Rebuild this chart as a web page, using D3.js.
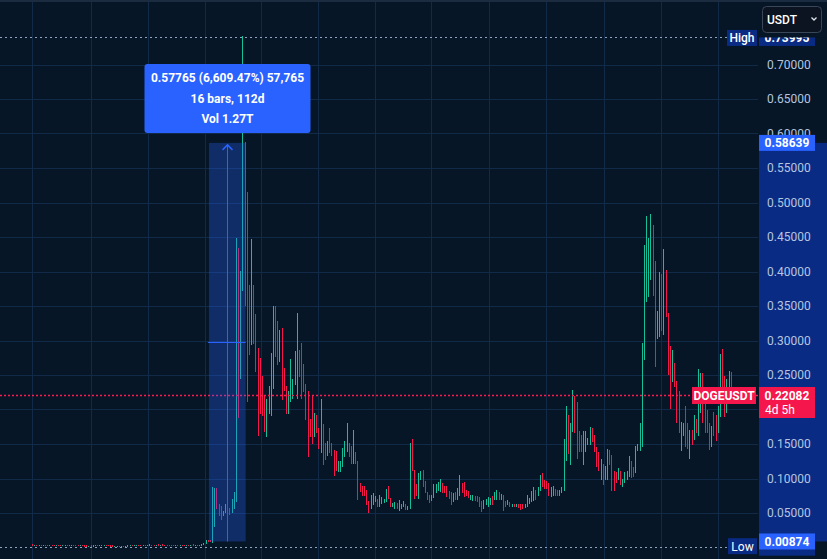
<!DOCTYPE html>
<html><head><meta charset="utf-8">
<script src="https://cdn.jsdelivr.net/npm/d3@7/dist/d3.min.js"></script>
<style>html,body{margin:0;padding:0;background:#061626;overflow:hidden}svg{display:block}</style>
</head><body><svg id="c" width="827" height="559"></svg>
<script>
// ---- data (weekly DOGEUSDT) ----
const firstOpen = 0.0036;
const highs = [
.0040,.0035,.0036,.0033,.0032,.0033,.0034,.0032,.0029,.0029,
.0026,.0026,.0026,.0025,.0026,.0027,.0027,.0030,.0030,.0029,
.0028,.0026,.0024,.0024,.0023,.0023,.0021,.0022,.0024,.0025,
.0025,.0025,.0028,.0032,.0031,.0028,.0024,.0023,.0019,.0020,
.0020,.0021,.0020,.0021,.0024,.0026,.0026,.0026,.0027,.0027,
.0026,.0026,.0025,.0026,.0047,.0036,.0034,.0035,.0037,.0036,
.0037,.0035,.0033,.0030,.0029,.0028,.0028,.0028,.0028,.0027,
.0027,.0029,.0029,.0036,.0038,.0036,.0034,.0035,.0048,.0060,
.0108,.0100,.0100,.087,.086,.085,.063,.060,.052,.063,
.062,.057,.070,.079,.448,.434,.40,.740,.587,.515,
.38,.447,.379,.337,.289,.274,.248,.219,.214,.233,
.281,.349,.350,.327,.315,.318,.260,.233,.226,.272,
.243,.284,.339,.286,.296,.265,.236,.226,.185,.219,
.194,.192,.173,.214,.178,.151,.153,.173,.151,.141,
.139,.124,.124,.144,.153,.179,.151,.146,.170,.137,
.124,.093,.089,.089,.083,.066,.076,.078,.074,.070,
.076,.073,.070,.084,.089,.071,.064,.065,.064,.068,
.062,.066,.062,.060,.151,.157,.112,.091,.107,.110,
.111,.095,.080,.076,.075,.092,.092,.094,.099,.093,
.089,.088,.081,.079,.078,.080,.086,.104,.093,.094,
.083,.081,.076,.076,.074,.074,.073,.066,.068,.069,
.073,.071,.074,.079,.083,.080,.077,.076,.067,.068,
.065,.063,.063,.063,.063,.062,.063,.062,.075,.071,
.081,.087,.082,.087,.105,.107,.097,.095,.093,.087,
.089,.084,.082,.083,.087,.156,.205,.192,.179,.228,
.219,.210,.168,.163,.168,.168,.158,.174,.173,.163,
.145,.137,.128,.120,.117,.142,.141,.134,.110,.108,
.115,.110,.099,.108,.110,.132,.124,.116,.146,.149,
.179,.296,.437,.479,.448,.483,.466,.414,.342,.398,
.396,.432,.402,.339,.292,.286,.267,.240,.226,.181,
.179,.205,.179,.170,.170,.192,.185,.258,.252,.252,
.211,.199,.180,.175,.195,.192,.204,.280,.287,.248,
.243,.255,.253];
const lows = [
.0030,.0030,.0028,.0027,.0029,.0029,.0030,.0025,.0026,.0025,
.0024,.0024,.0023,.0022,.0023,.0025,.0025,.0024,.0026,.0026,
.0026,.0022,.0022,.0022,.0021,.0019,.0020,.0020,.0020,.0022,
.0023,.0023,.0024,.0026,.0026,.0022,.0021,.0012,.0015,.0017,
.0018,.0018,.0018,.0019,.0020,.0022,.0022,.0023,.0024,.0025,
.0024,.0023,.0023,.0023,.0024,.0031,.0030,.0030,.0032,.0032,
.0033,.0031,.0027,.0026,.0026,.0025,.0025,.0025,.0025,.0025,
.0024,.0025,.0026,.0027,.0030,.0030,.0030,.0031,.0032,.0044,
.0054,.0080,.0083,.0075,.030,.056,.047,.040,.046,.050,
.052,.048,.050,.056,.067,.188,.245,.373,.351,.211,
.279,.294,.296,.255,.162,.194,.192,.168,.161,.194,
.192,.231,.277,.265,.269,.214,.228,.194,.194,.211,
.216,.236,.216,.248,.216,.226,.186,.132,.161,.151,
.161,.166,.144,.137,.120,.127,.134,.137,.134,.105,
.112,.110,.110,.117,.132,.139,.132,.122,.122,.122,
.069,.081,.076,.076,.063,.050,.057,.063,.066,.059,
.059,.064,.065,.066,.071,.060,.059,.057,.057,.054,
.057,.059,.055,.055,.057,.111,.071,.075,.071,.098,
.088,.079,.069,.065,.068,.073,.079,.083,.081,.079,
.079,.074,.071,.062,.067,.070,.070,.076,.080,.074,
.075,.072,.070,.068,.068,.067,.060,.052,.057,.062,
.060,.063,.063,.069,.069,.070,.070,.054,.059,.062,
.059,.059,.059,.059,.058,.055,.057,.058,.059,.064,
.066,.068,.070,.076,.083,.089,.086,.085,.075,.074,
.075,.076,.076,.076,.079,.083,.126,.136,.121,.168,
.166,.129,.139,.139,.120,.139,.149,.149,.153,.139,
.118,.112,.099,.091,.098,.098,.120,.083,.083,.094,
.098,.092,.088,.094,.099,.103,.102,.103,.109,.140,
.141,.147,.272,.356,.364,.388,.365,.262,.303,.306,
.315,.308,.335,.250,.202,.240,.233,.181,.166,.141,
.163,.146,.144,.129,.149,.156,.166,.163,.195,.181,
.166,.166,.142,.147,.163,.155,.166,.190,.220,.190,
.195,.214,.214];
const closes = [
.0032,.0033,.0030,.0031,.0030,.0032,.0031,.0027,.0028,.0026,
.0025,.0026,.0024,.0023,.0025,.0026,.0025,.0027,.0028,.0027,
.0026,.0023,.0024,.0023,.0022,.0020,.0021,.0020,.0023,.0024,
.0023,.0025,.0027,.0030,.0027,.0023,.0022,.0017,.0018,.0019,
.0018,.0020,.0019,.0020,.0023,.0025,.0024,.0025,.0026,.0025,
.0024,.0025,.0024,.0025,.0034,.0033,.0032,.0034,.0033,.0035,
.0034,.0032,.0029,.0028,.0027,.0026,.0027,.0026,.0027,.0026,
.0025,.0028,.0027,.0034,.0031,.0033,.0032,.0034,.0045,.0057,
.0098,.0092,.00874,.034,.058,.057,.050,.048,.050,.060,
.056,.052,.065,.072,.32,.27,.39,.49,.42,.32,
.30,.375,.32,.28,.245,.23,.20,.185,.20,.215,
.27,.31,.29,.275,.30,.245,.232,.20,.215,.225,
.24,.27,.28,.26,.24,.23,.21,.17,.165,.162,
.172,.168,.148,.17,.135,.130,.145,.14,.137,.125,
.115,.119,.123,.14,.146,.16,.138,.128,.134,.127,
.088,.085,.08,.077,.064,.058,.066,.068,.070,.062,
.066,.068,.069,.08,.072,.061,.063,.064,.059,.061,
.062,.064,.058,.059,.14,.112,.08,.078,.10,.105,
.09,.082,.071,.069,.072,.085,.088,.09,.092,.084,
.082,.077,.074,.068,.075,.073,.08,.088,.085,.08,
.078,.073,.074,.075,.071,.069,.063,.062,.066,.067,
.068,.070,.069,.078,.08,.075,.076,.063,.062,.064,
.061,.063,.061,.062,.060,.059,.058,.061,.069,.070,
.076,.080,.077,.085,.10,.095,.092,.09,.082,.085,
.086,.08,.078,.08,.085,.15,.17,.16,.17,.20,
.19,.155,.15,.145,.15,.153,.156,.165,.16,.143,
.125,.118,.124,.103,.11,.136,.125,.10,.098,.096,
.104,.095,.098,.104,.108,.118,.11,.107,.138,.148,
.165,.27,.38,.40,.42,.44,.40,.31,.33,.38,
.34,.38,.34,.27,.25,.265,.24,.19,.17,.172,
.176,.168,.155,.165,.155,.18,.175,.225,.232,.205,
.19,.17,.158,.168,.164,.16,.20,.265,.225,.20,
.235,.24,.22082];

const yTicks = [0.05,0.10,0.15,0.20,0.25,0.30,0.35,0.40,0.45,0.50,0.55,0.60,0.65,0.70];
const hiddenTickLabels = [0.20];   // covered by the last-price label in the reference
const timeGridBars = [0, 27, 53.5, 79.5, 105.5, 132, 158, 184, 210.5, 237, 263.5, 290, 316];
const symbol = "DOGEUSDT";
const lastPrice = 0.22082;
const countdown = "4d 5h";
const highValue = 0.73995;
const measureStart = {bar: 82, price: 0.00874};
const measureEnd = {bar: 98, price: 0.58639};
const measureLines = ["0.57765 (6,609.47%) 57,765", "16 bars, 112d", "Vol 1.27T"];
const currency = "USDT";

// ---- styles ----
const BG = "#061626", GRID = "#102a48", UP = "#14c09c", DOWN = "#f5174c";
const AXIS_TXT = "#b4c6e0", BLUE = "#2962ff", DARKBLUE = "#0a2b84", FONT = "Roboto, 'Liberation Sans', sans-serif";
const PLOT_R = 758, AXIS_L = 759;

const svg = d3.select("#c").style("font-family", FONT);
const x = d3.scaleLinear().domain([0, highs.length - 1]).range([32, 730.7]);
const y = d3.scaleLinear().domain([0, 0.7]).range([547.5, 64.5]);

svg.append("rect").attr("width", 827).attr("height", 559).attr("fill", BG);

// grid
const grid = svg.append("g").attr("shape-rendering", "crispEdges");
grid.selectAll(".h").data(yTicks).join("line")
  .attr("x1", 0).attr("x2", PLOT_R)
  .attr("y1", d => Math.round(y(d)) + 0.5).attr("y2", d => Math.round(y(d)) + 0.5)
  .attr("stroke", GRID);
grid.selectAll(".v").data(timeGridBars).join("line")
  .attr("x1", d => Math.round(x(d)) + 0.5).attr("x2", d => Math.round(x(d)) + 0.5)
  .attr("y1", 0).attr("y2", 559).attr("stroke", GRID);

// high / low dotted lines
const minLow = d3.min(lows);
svg.append("line").attr("x1", 0).attr("x2", 727).attr("y1", Math.round(y(highValue)) + 0.5).attr("y2", Math.round(y(highValue)) + 0.5)
  .attr("stroke", "#8ea3bd").attr("stroke-dasharray", "2,3").attr("shape-rendering", "crispEdges");
svg.append("line").attr("x1", 0).attr("x2", 728).attr("y1", Math.round(y(minLow)) + 0.5).attr("y2", Math.round(y(minLow)) + 0.5)
  .attr("stroke", "#8ea3bd").attr("stroke-dasharray", "2,3").attr("shape-rendering", "crispEdges");

// bars
const bars = highs.map((h, i) => ({i, h, l: lows[i], c: closes[i], o: i === 0 ? firstOpen : closes[i - 1]}));
svg.append("g").attr("shape-rendering", "crispEdges").selectAll("rect").data(bars).join("rect")
  .attr("x", d => Math.round(x(d.i)))
  .attr("y", d => Math.floor(y(d.h)))
  .attr("width", 1)
  .attr("height", d => Math.max(1, Math.ceil(y(d.l)) - Math.floor(y(d.h))))
  .attr("fill", d => d.c >= d.o ? UP : DOWN);

// last price line (dotted red)
const ly = Math.round(y(lastPrice));
svg.append("line").attr("x1", 0).attr("x2", PLOT_R).attr("y1", ly + 0.5).attr("y2", ly + 0.5)
  .attr("stroke", "#ff1a4d").attr("stroke-width", 1.5).attr("stroke-dasharray", "2,2");

// measure tool
const mx0 = x(measureStart.bar) - 1, mx1 = x(measureEnd.bar) + 1;
const my0 = y(measureEnd.price), my1 = y(measureStart.price);
const mcx = Math.round(x((measureStart.bar + measureEnd.bar) / 2)) + 0.5;
const mMid = y((measureStart.price + measureEnd.price) / 2);
svg.append("rect").attr("x", mx0).attr("y", my0).attr("width", mx1 - mx0).attr("height", my1 - my0)
  .attr("fill", BLUE).attr("fill-opacity", 0.3);
svg.append("line").attr("x1", mcx).attr("x2", mcx).attr("y1", my0 + 2).attr("y2", my1).attr("stroke", BLUE).attr("stroke-width", 1);
svg.append("line").attr("x1", mx0 - 1).attr("x2", mx1).attr("y1", Math.round(mMid) + 0.5).attr("y2", Math.round(mMid) + 0.5).attr("stroke", BLUE);
svg.append("path").attr("d", `M${mcx - 5},${my0 + 7} L${mcx},${my0 + 2} L${mcx + 5},${my0 + 7}`)
  .attr("fill", "none").attr("stroke", BLUE).attr("stroke-width", 1.5);

// tooltip
const tw = 166, th = 69;
const tg = svg.append("g").attr("transform", `translate(${mcx - tw / 2},${my0 - 10 - th})`);
tg.append("rect").attr("width", tw).attr("height", th).attr("rx", 3).attr("fill", BLUE);
tg.selectAll("text").data(measureLines).join("text")
  .attr("x", tw / 2).attr("y", (d, i) => 14 + i * 20.5).attr("dy", "0.35em")
  .attr("text-anchor", "middle").attr("fill", "#fff").attr("font-size", 12).attr("font-weight", 700)
  .text(d => d);

// price axis
svg.append("rect").attr("x", AXIS_L).attr("y", my0).attr("width", 827 - AXIS_L).attr("height", my1 - my0).attr("fill", DARKBLUE);
const axis = d3.axisRight(y).tickValues(yTicks.filter(t => !hiddenTickLabels.includes(t)))
  .tickFormat(d3.format(".5f")).tickSize(0).tickPadding(8);
const ag = svg.append("g").attr("transform", `translate(${AXIS_L},0)`).call(axis);
ag.select(".domain").remove();
ag.selectAll("text").attr("fill", AXIS_TXT).attr("font-size", 12).attr("font-family", FONT);

const fmt = d3.format(".5f");
function label(x0, w, yc, h, fill) {
  const g = svg.append("g");
  g.append("rect").attr("x", x0).attr("y", yc - h / 2).attr("width", w).attr("height", h).attr("fill", fill);
  return g;
}
// low label (its value is hidden under the measure label)
label(728, 29, y(minLow) - 0.5, 16, DARKBLUE).append("text").attr("x", 742.5).attr("y", y(minLow)).attr("dy", "0.35em")
  .attr("text-anchor", "middle").attr("fill", "#fff").attr("font-size", 12).text("Low");
label(AXIS_L, 56, y(minLow) + 1, 16, DARKBLUE);
// measure labels
[measureEnd.price, measureStart.price].forEach(p => {
  label(AXIS_L, 56, y(p), 16, BLUE).append("text").attr("x", 787).attr("y", y(p)).attr("dy", "0.35em")
    .attr("text-anchor", "middle").attr("fill", "#fff").attr("font-size", 12).attr("font-weight", 700).text(fmt(p));
});
// high label
label(727, 30, y(highValue) + 1, 16, DARKBLUE).append("text").attr("x", 742).attr("y", y(highValue) + 1).attr("dy", "0.35em")
  .attr("text-anchor", "middle").attr("fill", "#fff").attr("font-size", 12).attr("font-weight", 500).text("High");
label(AXIS_L, 56, y(highValue) + 1, 16, DARKBLUE).append("text").attr("x", 787).attr("y", y(highValue) + 1).attr("dy", "0.35em")
  .attr("text-anchor", "middle").attr("fill", "#fff").attr("font-size", 12).attr("font-weight", 700).text(fmt(highValue));
// axis header cover
svg.append("rect").attr("x", AXIS_L).attr("y", 0).attr("width", 827 - AXIS_L).attr("height", y(highValue) + 0.5).attr("fill", BG);

// last price labels
const sg = label(692, 64, ly + 0.5, 17, DOWN);
sg.append("text").attr("x", 724).attr("y", ly + 0.5).attr("dy", "0.35em").attr("text-anchor", "middle")
  .attr("fill", "#fff").attr("font-size", 12).attr("font-weight", 700).text(symbol);
const pg = svg.append("g");
pg.append("rect").attr("x", AXIS_L).attr("y", ly - 8).attr("width", 56).attr("height", 31).attr("fill", DOWN);
pg.append("text").attr("x", 787).attr("y", ly + 0.5).attr("dy", "0.35em").attr("text-anchor", "middle")
  .attr("fill", "#fff").attr("font-size", 12).attr("font-weight", 700).text(fmt(lastPrice));
pg.append("text").attr("x", 765).attr("y", ly + 15).attr("dy", "0.35em").attr("text-anchor", "start")
  .attr("fill", "#fff").attr("font-size", 12).text(countdown);

// top border
svg.append("rect").attr("x", 0).attr("y", 0).attr("width", 827).attr("height", 2).attr("fill", "#1c2c40");

// currency button
const bg = svg.append("g");
bg.append("rect").attr("x", 762.5).attr("y", 6.5).attr("width", 59).attr("height", 26).attr("rx", 4)
  .attr("fill", "#0b1420").attr("stroke", "#3a4759");
bg.append("text").attr("x", 767).attr("y", 19.5).attr("dy", "0.35em").attr("fill", "#fff")
  .attr("font-size", 12).attr("font-weight", 500).text(currency);
bg.append("path").attr("d", "M811.5,17.5 L814,20 L816.5,17.5").attr("fill", "none").attr("stroke", "#dfe6ef").attr("stroke-width", 1.3);
</script></body></html>
